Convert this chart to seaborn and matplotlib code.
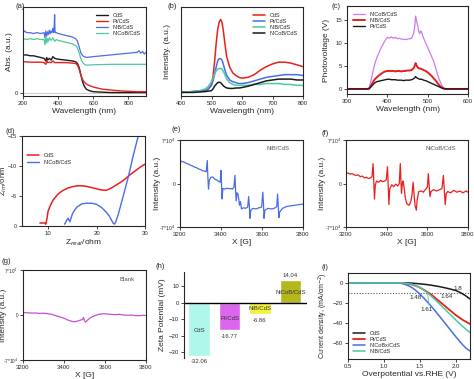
import matplotlib
matplotlib.use("Agg")
import matplotlib.pyplot as plt
import seaborn as sns

# ---------------- data ----------------
# (a) UV-vis absorbance
abs_cds_x = [200, 220, 240, 260, 280, 300, 320, 330, 335, 340, 350, 360, 370, 380, 400, 420, 440, 460, 480,
             500, 510, 520, 530, 540, 550, 560, 580, 600, 650, 700, 800, 900]
abs_cds_y = [0.44, 0.44, 0.43, 0.43, 0.42, 0.41, 0.40, 0.37, 0.41, 0.38, 0.40, 0.38, 0.42, 0.40, 0.39, 0.385,
             0.38, 0.375, 0.37, 0.36, 0.34, 0.29, 0.20, 0.12, 0.07, 0.04, 0.02, 0.01, 0.005, 0.0, 0.0, 0.0]
abs_pt_x = [200, 250, 300, 320, 330, 335, 340, 350, 360, 370, 380, 400, 450, 500, 510, 520, 530, 540, 550, 560,
            580, 600, 650, 700, 750, 800, 850, 900]
abs_pt_y = [0.36, 0.355, 0.355, 0.35, 0.33, 0.37, 0.35, 0.355, 0.35, 0.37, 0.35, 0.35, 0.35, 0.34, 0.32, 0.27,
            0.20, 0.15, 0.12, 0.10, 0.08, 0.065, 0.04, 0.03, 0.02, 0.015, 0.01, 0.01]
abs_nib_x = [200, 210, 220, 240, 260, 280, 300, 320, 325, 330, 335, 340, 345, 350, 355, 360, 365, 370, 375, 378,
             380, 382, 385, 390, 400, 420, 440, 460, 480, 500, 510, 520, 530, 540, 550, 560, 600, 650, 700, 750,
             800, 850, 860, 870, 880, 890, 900]
abs_nib_y = [0.70, 0.72, 0.70, 0.70, 0.69, 0.70, 0.69, 0.70, 0.64, 0.72, 0.66, 0.71, 0.68, 0.73, 0.69, 0.72,
             0.70, 0.75, 0.70, 0.80, 0.91, 0.72, 0.70, 0.70, 0.69, 0.68, 0.67, 0.66, 0.65, 0.63, 0.60, 0.53,
             0.46, 0.43, 0.42, 0.41, 0.42, 0.43, 0.44, 0.45, 0.46, 0.47, 0.49, 0.46, 0.48, 0.45, 0.47]
abs_nicob_x = [200, 220, 240, 260, 280, 300, 320, 325, 330, 335, 340, 345, 350, 360, 370, 380, 390, 400, 420,
               440, 460, 480, 500, 510, 520, 530, 540, 550, 560, 600, 700, 800, 900]
abs_nicob_y = [0.63, 0.62, 0.63, 0.62, 0.63, 0.62, 0.62, 0.56, 0.65, 0.58, 0.63, 0.60, 0.64, 0.61, 0.64, 0.60,
               0.62, 0.61, 0.60, 0.59, 0.58, 0.57, 0.55, 0.52, 0.46, 0.39, 0.35, 0.33, 0.32, 0.325, 0.33, 0.33, 0.33]

# (b) PL spectra
pl_x = [400, 420, 440, 460, 480, 490, 500, 505, 510, 515, 520, 525, 530, 535, 540, 545, 550, 560, 570, 580,
        590, 600, 620, 640, 660, 680, 700, 720, 740, 760, 780, 800]
pl_cds = [0.04, 0.045, 0.05, 0.055, 0.06, 0.08, 0.13, 0.22, 0.38, 0.58, 0.74, 0.83, 0.86, 0.82, 0.70, 0.56,
          0.44, 0.32, 0.26, 0.23, 0.21, 0.20, 0.21, 0.24, 0.29, 0.33, 0.36, 0.38, 0.38, 0.37, 0.35, 0.33]
pl_pt = [0.04, 0.045, 0.05, 0.055, 0.06, 0.08, 0.12, 0.17, 0.24, 0.32, 0.39, 0.42, 0.42, 0.40, 0.34, 0.28,
         0.23, 0.18, 0.16, 0.15, 0.14, 0.14, 0.15, 0.17, 0.19, 0.21, 0.22, 0.23, 0.24, 0.24, 0.24, 0.23]
pl_nib = [0.04, 0.045, 0.05, 0.06, 0.08, 0.11, 0.16, 0.20, 0.25, 0.28, 0.30, 0.31, 0.31, 0.30, 0.27, 0.23,
          0.19, 0.15, 0.13, 0.12, 0.12, 0.12, 0.12, 0.13, 0.13, 0.14, 0.14, 0.14, 0.13, 0.13, 0.12, 0.12]
pl_nicob = [0.04, 0.04, 0.04, 0.045, 0.05, 0.055, 0.06, 0.08, 0.11, 0.13, 0.15, 0.155, 0.15, 0.13, 0.11, 0.10,
            0.09, 0.085, 0.085, 0.09, 0.09, 0.095, 0.11, 0.13, 0.15, 0.17, 0.18, 0.19, 0.19, 0.19, 0.18, 0.18]

# (c) surface photovoltage
spv_x = [300, 320, 340, 350, 355, 360, 365, 370, 375, 380, 385, 390, 395, 400, 405, 410, 415, 420, 425, 430,
         435, 440, 445, 450, 455, 460, 465, 468, 470, 472, 475, 478, 480, 483, 485, 488, 490, 495, 500, 505,
         510, 515, 520, 525, 530, 535, 540, 545, 550, 575, 600]
spv_nicob = [0, 0, 0, 0, 0.2, 2, 4, 5.8, 7, 8, 9, 9.8, 10.6, 11.2, 11, 11.3, 11, 11.2, 10.9, 11, 10.8, 10.8,
             10.7, 10.8, 10.9, 11, 12, 13.5, 15.8, 15, 13.8, 12.5, 12, 12.6, 12.3, 11.5, 11, 10, 9, 8, 7, 6,
             4.5, 3, 1.8, 0.8, 0.2, 0, 0, 0, 0]
spv_nib = [0, 0, 0, 0, 0.1, 0.8, 1.6, 2.2, 2.6, 3, 3.3, 3.6, 3.8, 3.9, 3.9, 3.9, 3.9, 3.8, 3.9, 3.9, 3.8, 3.9,
           3.9, 4.0, 4.0, 4.1, 4.5, 5.0, 5.6, 5.2, 4.7, 4.5, 4.4, 4.4, 4.3, 4.2, 4.1, 3.9, 3.6, 3.2, 2.8, 2.3,
           1.8, 1.2, 0.7, 0.3, 0.1, 0, 0, 0, 0]
spv_pt = [0, 0, 0, 0, 0.05, 0.5, 1.0, 1.4, 1.6, 1.7, 1.8, 1.9, 2.0, 2.1, 2.1, 2.0, 2.0, 2.0, 1.9, 1.9, 1.9,
          1.8, 1.9, 1.9, 1.9, 2.0, 2.2, 2.4, 2.7, 2.5, 2.3, 2.2, 2.1, 2.1, 2.1, 2.0, 1.9, 1.8, 1.6, 1.4, 1.2,
          1.0, 0.8, 0.6, 0.4, 0.2, 0.05, 0, 0, 0, 0]

# (d) Nyquist plots
eis_cds_re = [8.3, 9.3, 9.5, 9.7, 10.0, 10.5, 11.0, 12.0, 13.0, 14.0, 15.0, 16.0, 17.0, 18.0, 19.0, 20.0, 21.0,
              22.0, 23.0, 24.0, 25.0, 26.0, 27.0, 28.0, 29.0, 30.0]
eis_cds_im = [-0.5, -0.5, -0.3, -1.0, -2.5, -3.5, -4.3, -5.3, -5.9, -6.3, -6.55, -6.7, -6.7, -6.6, -6.4, -6.2,
              -6.0, -5.95, -6.3, -6.8, -7.3, -7.9, -8.6, -9.2, -9.8, -10.3]
eis_nicob_re = [13.4, 13.8, 14.1, 14.5, 14.8, 15.0, 15.5, 16.0, 17.0, 18.0, 19.0, 20.0, 21.0, 22.0, 22.6, 23.0,
                23.4, 23.7, 24.0, 24.5, 25.0, 25.5, 26.5, 27.5, 28.6]
eis_nicob_im = [-0.3, -0.9, -1.3, -0.7, -1.5, -2.0, -2.7, -3.2, -3.7, -3.8, -3.8, -3.6, -3.1, -2.3, -1.7,
                -1.1, -0.5, -0.3, -0.8, -2.0, -3.5, -5.0, -8.0, -11.5, -15.0]

# (e) EPR Ni/B/CdS (intensity in 1e4)
epr_nib_x = [3200, 3210, 3220, 3230, 3240, 3250, 3260, 3270, 3280, 3290, 3300, 3310, 3320, 3328, 3333, 3336,
             3339, 3343, 3350, 3360, 3370, 3380, 3390, 3396, 3400, 3402, 3405, 3409, 3420, 3430, 3440, 3450,
             3455, 3463, 3468, 3471, 3474, 3478, 3483, 3487, 3490, 3495, 3500, 3510, 3520, 3530, 3535, 3538,
             3541, 3545, 3555, 3570, 3585, 3598, 3604, 3607, 3610, 3614, 3630, 3650, 3665, 3672, 3676, 3679,
             3682, 3686, 3700, 3720, 3740, 3760, 3780, 3800]
epr_nib_y = [3.7, 3.5, 3.45, 3.25, 3.15, 2.95, 2.85, 2.65, 2.55, 2.35, 2.25, 2.05, 2.0, 1.9, 3.7, 1.0,
             -0.9, 0.5, 1.0, 1.05, 0.7, 0.55, 0.3, 0.2, 2.1, 0.5, -2.5, -0.8, -0.9, -0.75, -0.85, -0.8,
             -0.9, -0.6, 1.3, -1.0, -2.8, -1.5, -1.7, -2.6, -3.5, -2.9, -4.1, -3.9, -4.0, -3.8, -2.1, -3.5,
             -5.6, -4.3, -4.0, -4.1, -3.9, -3.8, -1.4, -3.2, -5.6, -4.3, -4.0, -4.1, -3.9, -3.7, -1.7, -3.4,
             -5.5, -4.6, -4.0, -3.7, -3.6, -3.5, -3.4, -3.3]

# (f) EPR NiCoB/CdS
epr_nicob_x = [3200, 3210, 3220, 3230, 3240, 3250, 3260, 3270, 3280, 3290, 3300, 3310, 3320, 3328, 3333, 3336,
               3340, 3344, 3350, 3360, 3370, 3380, 3390, 3398, 3404, 3407, 3411, 3415, 3425, 3435, 3445, 3455,
               3462, 3467, 3470, 3473, 3477, 3480, 3485, 3492, 3500, 3510, 3518, 3524, 3530, 3534, 3540, 3546,
               3550, 3558, 3570, 3580, 3590, 3600, 3605, 3609, 3613, 3618, 3630, 3645, 3660, 3672, 3679, 3683,
               3688, 3693, 3700, 3715, 3730, 3745, 3760, 3775, 3790, 3800]
epr_nicob_y = [1.6, 1.7, 1.5, 1.6, 1.4, 1.3, 1.4, 1.1, 1.2, 0.9, 1.0, 0.8, 0.9, 1.1, 3.2, 1.0,
               -2.5, -0.3, 0.4, 0.2, 0.5, 0.3, 0.4, 0.6, 2.7, 0.2, -3.4, -0.9, -0.2, -0.5, -0.1, -0.4,
               0.0, 3.2, 0.6, -1.6, 0.0, 0.4, -0.5, -2.4, -3.3, -3.5, -3.0, -2.0, 0.2, -1.5, -3.6, -4.3,
               -2.6, -1.3, -1.2, -1.4, -1.0, -0.6, 1.6, -0.4, -2.1, -1.3, -1.0, -1.2, -1.0, -0.8, 1.3, -0.8,
               -3.4, -1.6, -1.3, -1.5, -1.1, -1.4, -1.2, -1.5, -1.2, -1.4]

# (g) EPR blank
epr_blank_x = [3200, 3220, 3240, 3260, 3280, 3300, 3320, 3340, 3360, 3380, 3400, 3420, 3440, 3455, 3470, 3480,
               3490, 3495, 3500, 3505, 3515, 3530, 3550, 3570, 3590, 3610, 3630, 3650, 3670, 3690, 3710, 3730,
               3750, 3770, 3790, 3800]
epr_blank_y = [0.37, 0.35, 0.30, 0.32, 0.25, 0.28, 0.20, 0.10, -0.1, -0.3, -0.5, -0.8, -1.0, -1.05, -0.9, -0.8,
               -0.7, -0.4, -0.9, -1.1, -0.8, -0.4, -0.1, 0.1, 0.2, 0.15, 0.1, 0.05, 0.1, 0.0, -0.05, 0.0,
               -0.1, -0.1, -0.05, -0.1]

# (h) zeta potential
zeta_names = ["CdS", "Pt/CdS", "NiB/CdS", "NiCoB/CdS"]
zeta_values = [-32.06, -16.77, -6.86, 14.04]
zeta_labels = ["-32.06", "-16.77", "-6.86", "14.04"]

# (i) LSV
lsv_v = [0.5, 0.8, 1.0, 1.1, 1.2, 1.25, 1.3, 1.35, 1.4, 1.45, 1.5, 1.55, 1.6, 1.65, 1.7, 1.75, 1.8, 1.85,
         1.9, 1.95, 2.0, 2.05, 2.1, 2.15, 2.2]
lsv_cds = [0, 0, 0, 0, 0, 0, 0, 0, -0.2, -0.5, -0.8, -1.2, -1.6, -2.1, -2.7, -3.3, -4.0, -4.8, -5.6,
           -6.5, -7.5, -9.0, -11.0, -13.3, -16.0]
lsv_pt = [0, 0, 0, 0, 0, 0, -0.5, -1.0, -1.8, -3.0, -4.5, -6.5, -8.8, -11.0, -14.0, -17.0, -20.0, -23.0,
          -26.0, -29.0, -32.0, -34.5, -37.0, -39.0, -41.0]
lsv_nicob = [0, 0, 0, 0, 0, -0.5, -1.5, -3.0, -5.0, -7.8, -11.0, -14.5, -18.5, -22.5, -26.7, -31.0, -35.5,
             -40.0, -44.5, -49.0, -53.5, -57.8, -62.0, -65.5, -68.0]
lsv_nib = [0, 0, 0, 0, 0, 0, -0.3, -0.8, -1.5, -2.7, -4.5, -6.8, -9.5, -12.5, -15.8, -19.2, -22.7, -26.2,
           -29.8, -33.3, -36.8, -40.2, -43.5, -46.6, -49.5]

# ---------------- style ----------------
sns.set_theme(style="ticks")
plt.rcParams['font.family'] = ['Liberation Sans', 'DejaVu Sans']
plt.rcParams['axes.linewidth'] = 0.8
plt.rcParams['xtick.major.size'] = 2
plt.rcParams['ytick.major.size'] = 2
plt.rcParams['xtick.major.width'] = 0.6
plt.rcParams['ytick.major.width'] = 0.6
plt.rcParams['xtick.major.pad'] = 1.5
plt.rcParams['ytick.major.pad'] = 1.5
plt.rcParams['axes.labelpad'] = 1.5

BLACK = "#1a1a1a"
RED = "#e8201c"
BLUE = "#4a6ce8"
GREEN = "#4cc9a0"
VIOLET = "#cc7af0"
MAGENTA = "#c850d0"
TICK = 4.3
LAB = 6

W, H = 474, 379
fig = plt.figure(figsize=(W / 100, H / 100), dpi=100)


def box(x0, y0, x1, y1):
    return fig.add_axes([x0 / W, 1 - y1 / H, (x1 - x0) / W, (y1 - y0) / H])


def line(ax, x, y, color, label=None, lw=1.0):
    sns.lineplot(x=x, y=y, ax=ax, color=color, label=label, lw=lw, sort=False, estimator=None)


def finish(ax, xlabel, ylabel, ylab_x, ylab_size=LAB):
    ax.set_xlabel(xlabel, fontsize=LAB)
    ax.set_ylabel(ylabel, fontsize=ylab_size)
    ax.yaxis.set_label_coords(ylab_x, 0.5)
    ax.tick_params(labelsize=TICK)


def small_legend(ax, loc):
    ax.legend(loc=loc, frameon=False, fontsize=4, handlelength=2.2, labelspacing=0.2, borderaxespad=0.6)


def epr_ticks(ax):
    ax.set_xlim(3200, 3800)
    ax.set_ylim(-7, 7)
    ax.set_xticks([3200, 3400, 3600, 3800])
    ax.set_yticks([-7, 0, 7])
    ax.set_yticklabels(["-7*10$^4$", "0", "7*10$^4$"])


# (a)
ax = box(23, 7, 146, 96)
ax.axhline(0, color="#cccccc", lw=0.8)
line(ax, abs_cds_x, abs_cds_y, BLACK, "CdS", 1.0)
line(ax, abs_pt_x, abs_pt_y, RED, "Pt/CdS", 1.0)
line(ax, abs_nib_x, abs_nib_y, BLUE, "NiB/CdS", 0.9)
line(ax, abs_nicob_x, abs_nicob_y, GREEN, "NiCoB/CdS", 0.9)
ax.set_xlim(200, 900)
ax.set_ylim(-0.04, 1.0)
ax.set_xticks([200, 400, 600, 800])
ax.set_yticks([0])
small_legend(ax, "upper right")
finish(ax, "Wavelength (nm)", "Abs. (a.u.)", -0.08)

# (b)
ax = box(181, 7, 303, 96)
line(ax, pl_x, pl_cds, RED, "CdS", 1.1)
line(ax, pl_x, pl_pt, BLUE, "Pt/CdS", 1.1)
line(ax, pl_x, pl_nib, GREEN, "NiB/CdS", 1.1)
line(ax, pl_x, pl_nicob, BLACK, "NiCoB/CdS", 1.1)
ax.set_xlim(400, 800)
ax.set_ylim(0, 1.0)
ax.set_xticks([400, 500, 600, 700, 800])
ax.set_yticks([])
small_legend(ax, "upper right")
finish(ax, "Wavelength (nm)", "Intensity. (a.u.)", -0.08)

# (c)
ax = box(347, 6, 468, 94)
line(ax, spv_x, spv_nicob, VIOLET, "NiCoB/CdS", 0.9)
line(ax, spv_x, spv_nib, RED, "NiB/CdS", 1.4)
line(ax, spv_x, spv_pt, BLACK, "Pt/CdS", 1.0)
ax.set_xlim(300, 600)
ax.set_ylim(-1.1, 18)
ax.set_xticks([300, 400, 500, 600])
ax.set_yticks([0, 5, 10, 15])
small_legend(ax, "upper left")
finish(ax, "Wavelength (nm)", "Photovoltage (V)", -0.14)

# (d)
ax = box(22, 136, 145, 226)
line(ax, eis_cds_re, eis_cds_im, RED, "CdS", 1.1)
line(ax, eis_nicob_re, eis_nicob_im, BLUE, "NiCoB/CdS", 1.0)
ax.set_xlim(4.6, 30)
ax.set_ylim(0, -15)
ax.set_xticks([10, 20, 30])
ax.set_yticks([0, -5, -10, -15])
ax.legend(loc="upper left", frameon=False, fontsize=4, handlelength=2.2, labelspacing=0.4,
          bbox_to_anchor=(0.0, 0.87))
finish(ax, "Z$_{real}$/ohm", "Z$_{im}$/ohm", -0.105, 5.5)
ax.tick_params(axis="y", labelsize=3.8)

# (e)
ax = box(180, 140, 303, 227)
line(ax, epr_nib_x, epr_nib_y, BLUE, None, 0.9)
epr_ticks(ax)
ax.text(0.8, 0.88, "NiB/CdS", transform=ax.transAxes, fontsize=4.3, color="#555555", ha="center")
finish(ax, "X [G]", "Intensity (a.u.)", -0.155)
ax.tick_params(axis="y", labelsize=3.6)

# (f)
ax = box(346, 140, 468, 227)
line(ax, epr_nicob_x, epr_nicob_y, RED, None, 0.9)
epr_ticks(ax)
ax.text(0.78, 0.88, "NiCoB/CdS", transform=ax.transAxes, fontsize=4.3, color="#555555", ha="center")
finish(ax, "X [G]", "Intensity (a.u.)", -0.16)
ax.tick_params(axis="y", labelsize=3.6)

# (g)
ax = box(23, 270, 146, 360)
line(ax, epr_blank_x, epr_blank_y, MAGENTA, None, 0.9)
epr_ticks(ax)
ax.text(0.85, 0.88, "Blank", transform=ax.transAxes, fontsize=4.3, color="#555555", ha="center")
finish(ax, "X [G]", "Intensity (a.u.)", -0.13)
ax.tick_params(axis="y", labelsize=3.4)

# (h)
ax = box(184, 272, 307, 358)
zeta_colors = ["#aef7ea", "#dd66ee", "#f2f23a", "#b4b81e"]
sns.barplot(x=zeta_names, y=zeta_values, hue=zeta_names, palette=zeta_colors, legend=False,
            width=0.71, ax=ax, saturation=1)
ax.axhline(0, color="black", lw=1.0)
ax.set_xlim(-0.5, 3.55)
ax.set_ylim(-33.5, 18.6)
ax.set_yticks([-30, -20, -10, 0, 10])
ax.set_xticks([])
for s in ["top", "right", "bottom"]:
    ax.spines[s].set_visible(False)
name_y = [-17, -9.4, -3.4, 6]
value_y = [-35.5, -20.2, -10.8, 16.6]
for i in range(len(zeta_names)):
    ax.text(i, name_y[i], zeta_names[i], ha="center", va="center", fontsize=4.3, color="#333333")
    ax.text(i, value_y[i], zeta_labels[i], ha="center", va="center", fontsize=4.3, color="#333333")
finish(ax, "", "Zeta Potential (mV)", -0.15)

# (i)
ax = box(348, 273, 470, 359)
ax.axhline(-10, color="#555555", lw=0.8, ls=(0, (1, 1.5)))
line(ax, lsv_v, lsv_cds, BLACK, "CdS", 1.1)
line(ax, lsv_v, lsv_pt, RED, "Pt/CdS", 1.3)
line(ax, lsv_v, lsv_nicob, BLUE, "NiCoBx/CdS", 1.1)
line(ax, lsv_v, lsv_nib, GREEN, "NiB/CdS", 1.1)
ax.set_xlim(0.5, 2.2)
ax.set_ylim(-76, 10)
ax.set_xticks([0.5, 1.0, 1.5, 2.0])
ax.set_yticks([0, -20, -40, -60])
ax.text(2.03, -7, "1.8", fontsize=4.5, ha="center")
ax.text(1.87, -15, "1.64", fontsize=4.5, ha="center")
ax.text(1.44, -16, "1.48", fontsize=4.5, ha="center")
ax.text(1.60, -28, "1.61", fontsize=4.5, ha="center")
ax.plot([1.63, 1.61], [-22, -11], color=GREEN, lw=0.6)
ax.legend(loc="lower left", frameon=False, fontsize=4, handlelength=2.2, labelspacing=0.2)
finish(ax, "Overpotential vs.RHE (V)", "Current density, (mA/cm$^{-2}$)", -0.15, 5)

# panel letters
letters = [("(a)", 15, 3), ("(b)", 168, 3), ("(c)", 331, 3), ("(d)", 6, 128), ("(e)", 172, 126),
           ("(f)", 322, 130), ("(g)", 2, 258), ("(h)", 156, 263), ("(i)", 322, 264)]
for t, px, py in letters:
    fig.text(px / W, 1 - py / H, t, fontsize=5.5, va="top", ha="left")

fig.savefig("out.png", dpi=100)
